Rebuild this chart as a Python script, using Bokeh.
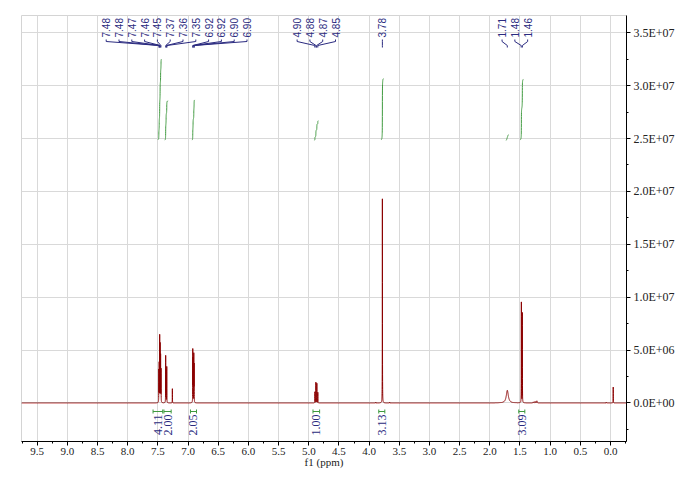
import numpy as np
from bokeh.plotting import figure
from bokeh.models import Range1d, FixedTicker, NumeralTickFormatter, CustomJSTickFormatter
from bokeh.core.properties import value
from bokeh.embed import file_html
from bokeh.resources import INLINE

# ---------------- data ----------------
# resolved lines of the 1H spectrum (ppm, height, half width at half max in ppm)
peak_ppm = [7.484, 7.478, 7.470, 7.463, 7.455, 7.448,
            7.371, 7.364, 7.353, 7.260,
            6.922, 6.917, 6.905, 6.900,
            4.898, 4.882, 4.866, 4.850,
            3.890, 3.780, 3.660,
            1.710, 1.477, 1.461, 1.280, 1.250, 1.220,
            0.070, -0.045]
peak_height = [3.0e6, 3.6e6, 6.2e6, 5.4e6, 4.4e6, 3.1e6,
               4.4e6, 3.0e6, 3.4e6, 1.35e6,
               4.9e6, 4.0e6, 4.5e6, 3.5e6,
               1.05e6, 1.95e6, 1.85e6, 1.0e6,
               0.08e6, 1.93e7, 0.08e6,
               1.2e6, 9.5e6, 8.5e6, 0.1e6, 0.15e6, 0.2e6,
               0.08e6, 1.5e6]
peak_hwhm = [0.0012] * 21 + [0.02, 0.0012, 0.0012, 0.004, 0.004, 0.004, 0.0015, 0.0012]

# multiplet labels at the top, grouped as printed
label_groups = [
    [7.48, 7.48, 7.47, 7.46, 7.45, 7.37, 7.36, 7.35, 6.92, 6.92, 6.90, 6.90],
    [4.90, 4.88, 4.87, 4.85],
    [3.78],
    [1.71, 1.48, 1.46],
]

# integration regions (ppm high, ppm low, integral value, shown label)
int_hi = [7.58, 7.40, 6.96, 4.93, 3.84, 1.73, 1.52]
int_lo = [7.42, 7.28, 6.86, 4.82, 3.74, 1.69, 1.42]
int_value = [4.11, 2.00, 2.05, 1.00, 3.13, 0.30, 3.09]
int_shown = [True, True, True, True, True, False, True]

# axis ticks
x_major = [9.5, 9.0, 8.5, 8.0, 7.5, 7.0, 6.5, 6.0, 5.5, 5.0, 4.5, 4.0, 3.5, 3.0, 2.5, 2.0, 1.5, 1.0, 0.5, 0.0]
x_minor = [9.75, 9.25, 8.75, 8.25, 7.75, 7.25, 6.75, 6.25, 5.75, 5.25, 4.75, 4.25, 3.75, 3.25, 2.75, 2.25, 1.75, 1.25, 0.75, 0.25, -0.25]
y_major = [0, 5e6, 1e7, 1.5e7, 2e7, 2.5e7, 3e7, 3.5e7]
y_minor = [-2.5e6, 2.5e6, 7.5e6, 1.25e7, 1.75e7, 2.25e7, 2.75e7, 3.25e7]

# ---------------- layout ----------------
X_LEFT, X_RIGHT = 9.76, -0.265
Y_BOTTOM, Y_TOP = -3.64e6, 3.663e7
FRAME_TOP = 15          # page px
FRAME_H = 426
FRAME_W = 605

def yv(page_y):
    return Y_TOP - (page_y - FRAME_TOP) / FRAME_H * (Y_TOP - Y_BOTTOM)

PPM_PER_PX = (X_LEFT - X_RIGHT) / FRAME_W
NAVY = "#2b2b80"
GREEN = "#3f9a3f"
RED = "#8b0000"
SERIF = "'Liberation Serif'"
SANS = "'Liberation Sans'"

p = figure(width=680, height=475,
           x_range=Range1d(X_LEFT, X_RIGHT), y_range=Range1d(Y_BOTTOM, Y_TOP),
           output_backend="svg", toolbar_location=None,
           y_axis_location="right",
           min_border_left=21, min_border_top=15, min_border_right=54, min_border_bottom=34)
p.background_fill_color = "white"
p.border_fill_color = "white"
p.outline_line_color = "#d4d4d4"

# axes
xa = p.xaxis[0]
xa.ticker = FixedTicker(ticks=x_major, minor_ticks=x_minor)
xa.formatter = NumeralTickFormatter(format="0.0")
xa.axis_label = "f1 (ppm)"
xa.axis_label_text_font = SERIF
xa.axis_label_text_font_size = "11px"
xa.axis_label_text_font_style = "normal"
xa.axis_label_text_color = "#222222"
xa.axis_label_standoff = -2
ya = p.yaxis[0]
ya.ticker = FixedTicker(ticks=y_major, minor_ticks=y_minor)
ya.formatter = CustomJSTickFormatter(code="""
    if (tick == 0) return "0.0E+00";
    const e = Math.floor(Math.log10(Math.abs(tick)) + 1e-9);
    const m = tick / Math.pow(10, e);
    const ae = Math.abs(e);
    return m.toFixed(1) + "E" + (e < 0 ? "-" : "+") + (ae < 10 ? "0" + ae : ae);
""")
for ax, fs in ((xa, "11px"), (ya, "12px")):
    ax.axis_line_color = "black"
    ax.major_tick_line_color = "black"
    ax.minor_tick_line_color = "black"
    ax.major_tick_in = 0
    ax.major_tick_out = 4
    ax.minor_tick_in = 0
    ax.minor_tick_out = 2
    ax.major_label_text_font = SERIF
    ax.major_label_text_font_size = fs
    ax.major_label_text_color = "#222222"
    ax.major_label_standoff = 3
xa.major_label_standoff = 2

p.xgrid.ticker = FixedTicker(ticks=x_major)
p.ygrid.ticker = FixedTicker(ticks=y_major)
p.xgrid.grid_line_color = "#d9d9d9"
p.ygrid.grid_line_color = "#d9d9d9"

# spectrum
xs = np.union1d(np.arange(X_RIGHT, X_LEFT, 0.0005), np.array(peak_ppm))
ys = np.zeros_like(xs)
for c, h, w in zip(peak_ppm, peak_height, peak_hwhm):
    ys += h / (1.0 + ((xs - c) / w) ** 2)
p.line(xs, ys, line_color=RED, line_width=1)

# integrals
unit = yv(140) - yv(160)      # 20 px per proton
base = yv(140)
for hi, lo, val, shown in zip(int_hi, int_lo, int_value, int_shown):
    m = (xs <= hi) & (xs >= lo)
    sx = xs[m][::-1]
    sy = ys[m][::-1]
    cs = np.cumsum(sy)
    cs = cs / cs[-1]
    k = (cs >= 0.01) & (cs <= 0.99)
    p.line(sx[k], base + cs[k] * val * unit, line_color=GREEN, line_width=1)
    if shown:
        cx = (hi + lo) / 2
        yb = yv(411)
        p.segment(x0=[hi], y0=[yb], x1=[lo], y1=[yb], line_color=GREEN, line_width=1)
        p.segment(x0=[hi, lo], y0=[yv(409), yv(409)], x1=[hi, lo], y1=[yv(413), yv(413)],
                  line_color=GREEN, line_width=1)
        p.text(x=[cx], y=[yv(414)], text=["%.2f" % val], angle=np.pi / 2,
               text_align="right", text_baseline="middle",
               text_font=value(SERIF), text_font_size="12px", text_color=NAVY)

# top multiplet labels with connecting lines
spacing = 12.8 * PPM_PER_PX
for grp in label_groups:
    n = len(grp)
    center = (max(grp) + min(grp)) / 2
    lxs = [center + ((n - 1) / 2 - i) * spacing for i in range(n)]
    p.text(x=lxs, y=[yv(37)] * n, text=["%.2f" % v for v in grp], angle=np.pi / 2,
           text_align="left", text_baseline="middle",
           text_font=value(SANS), text_font_size="10px", text_color=NAVY)
    mx, my = [], []
    for lx, pk in zip(lxs, grp):
        mx.append([lx, lx, pk, pk])
        my.append([yv(39), yv(41), yv(45), yv(47)])
    p.multi_line(mx, my, line_color=NAVY, line_width=1)

open("out.html", "w").write(file_html(p, INLINE))
